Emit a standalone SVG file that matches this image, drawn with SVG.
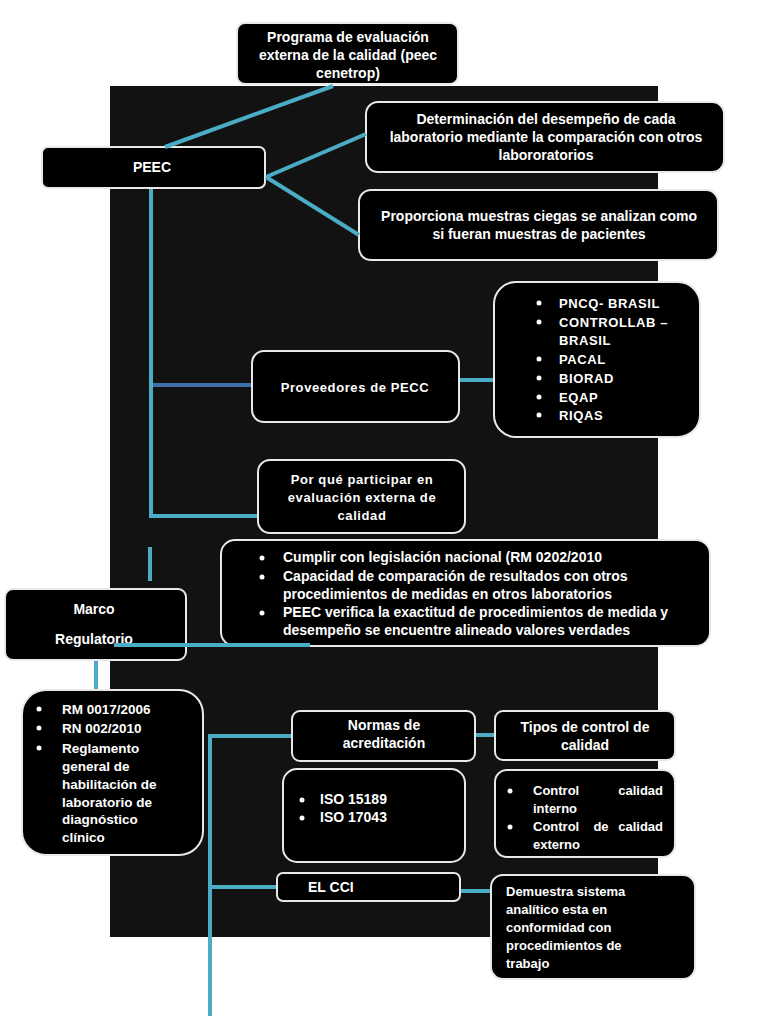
<svg xmlns="http://www.w3.org/2000/svg" width="768" height="1024" viewBox="0 0 768 1024">
<style>
.n{fill:#000;stroke:#e8e8e8;stroke-width:2}
.t{font-family:"Liberation Sans",Arial,sans-serif;font-weight:bold;font-size:14px;fill:#fff}
.s{font-size:13px}
.m{font-size:13.5px}
.w{font-family:"Liberation Sans",Arial,sans-serif;font-weight:bold;font-size:13px;fill:#fff;letter-spacing:0.6px}
.c{text-anchor:middle}
.l{stroke:#4BACC6;stroke-width:4;fill:none}
</style>
<rect width="768" height="1024" fill="#fff"/>
<rect x="110" y="86" width="548" height="851" fill="#121212"/>
<g id="programa">
<rect class="n" x="237" y="23" width="221" height="61" rx="8"/>
<text class="t c" x="348" y="42">Programa de evaluación</text>
<text class="t c" x="348" y="60">externa de la calidad (peec</text>
<text class="t c" x="348" y="78">cenetrop)</text>
</g>
<g id="peec">
<rect class="n" x="42" y="147" width="223" height="41" rx="6"/>
<text class="t c" x="152" y="172">PEEC</text>
</g>
<g id="determinacion">
<rect class="n" x="366" y="102" width="358" height="70" rx="12"/>
<text class="t c" x="546" y="124">Determinación del desempeño de cada</text>
<text class="t c" x="546" y="142">laboratorio mediante la comparación con otros</text>
<text class="t c" x="546" y="160">labororatorios</text>
</g>
<g id="proporciona">
<rect class="n" x="359" y="190" width="359" height="70" rx="12"/>
<text class="t c" x="539" y="221">Proporciona muestras ciegas se analizan como</text>
<text class="t c" x="539" y="239">si fueran muestras de pacientes</text>
</g>
<g id="proveedores">
<rect class="n" x="252" y="351" width="207" height="71" rx="12"/>
<text class="w c" x="355" y="392">Proveedores de PECC</text>
</g>
<g id="lista-proveedores">
<rect class="n" x="494" y="282" width="206" height="155" rx="22"/>
<g class="w">
<circle cx="539" cy="303" r="2.5" fill="#fff"/><text x="559" y="308">PNCQ- BRASIL</text>
<circle cx="539" cy="322" r="2.5" fill="#fff"/><text x="559" y="327">CONTROLLAB –</text>
<text x="559" y="345">BRASIL</text>
<circle cx="539" cy="359" r="2.5" fill="#fff"/><text x="559" y="364">PACAL</text>
<circle cx="539" cy="378" r="2.5" fill="#fff"/><text x="559" y="383">BIORAD</text>
<circle cx="539" cy="397" r="2.5" fill="#fff"/><text x="559" y="402">EQAP</text>
<circle cx="539" cy="415" r="2.5" fill="#fff"/><text x="559" y="420">RIQAS</text>
</g>
</g>
<g id="porque">
<rect class="n" x="258" y="460" width="207" height="73" rx="12"/>
<text class="w c" x="362" y="484">Por qué participar en</text>
<text class="w c" x="362" y="502">evaluación externa de</text>
<text class="w c" x="362" y="520">calidad</text>
</g>
<g id="cumplir">
<rect class="n" x="221" y="540" width="489" height="106" rx="14"/>
<circle cx="262" cy="558" r="2.5" fill="#fff"/><text class="t" x="283" y="562">Cumplir con legislación nacional (RM 0202/2010</text>
<circle cx="262" cy="577" r="2.5" fill="#fff"/><text class="t" x="283" y="581">Capacidad de comparación de resultados con otros</text>
<text class="t" x="283" y="599">procedimientos de medidas en otros laboratorios</text>
<circle cx="262" cy="613" r="2.5" fill="#fff"/><text class="t" x="283" y="617">PEEC verifica la exactitud de procedimientos de medida y</text>
<text class="t" x="283" y="635">desempeño se encuentre alineado valores verdades</text>
</g>
<g id="marco">
<rect class="n" x="5" y="589" width="181" height="71" rx="8"/>
<text class="t c" x="94" y="614">Marco</text>
<text class="t c" x="94" y="644">Regulatorio</text>
</g>
<g id="rm">
<rect class="n" x="22" y="690" width="181" height="165" rx="24"/>
<circle cx="39" cy="709" r="2.5" fill="#fff"/><text class="t m" x="62" y="714">RM 0017/2006</text>
<circle cx="39" cy="728" r="2.5" fill="#fff"/><text class="t m" x="62" y="733">RN 002/2010</text>
<circle cx="39" cy="748" r="2.5" fill="#fff"/><text class="t m" x="62" y="753">Reglamento</text>
<text class="t m" x="62" y="771">general de</text>
<text class="t m" x="62" y="789">habilitación de</text>
<text class="t m" x="62" y="807">laboratorio de</text>
<text class="t m" x="62" y="824">diagnóstico</text>
<text class="t m" x="62" y="842">clínico</text>
</g>
<g id="normas">
<rect class="n" x="292" y="711" width="183" height="50" rx="8"/>
<text class="t c" x="384" y="730">Normas de</text>
<text class="t c" x="384" y="748">acreditación</text>
</g>
<g id="tipos">
<rect class="n" x="495" y="711" width="180" height="49" rx="8"/>
<text class="t c" x="585" y="732">Tipos de control de</text>
<text class="t c" x="585" y="750">calidad</text>
</g>
<g id="iso">
<rect class="n" x="283" y="769" width="182" height="93" rx="14"/>
<circle cx="302" cy="800" r="2.5" fill="#fff"/><text class="t" x="320" y="804">ISO 15189</text>
<circle cx="302" cy="818" r="2.5" fill="#fff"/><text class="t" x="320" y="822">ISO 17043</text>
</g>
<g id="control">
<rect class="n" x="495" y="770" width="180" height="87" rx="12"/>
<circle cx="510" cy="791" r="2.5" fill="#fff"/><text class="t s" x="533" y="795">Control</text><text class="t s" x="663" y="795" text-anchor="end">calidad</text>
<text class="t s" x="533" y="813">interno</text>
<circle cx="510" cy="827" r="2.5" fill="#fff"/><text class="t s" x="533" y="831">Control</text><text class="t s c" x="601" y="831">de</text><text class="t s" x="663" y="831" text-anchor="end">calidad</text>
<text class="t s" x="533" y="849">externo</text>
</g>
<g id="elcci">
<rect class="n" x="277" y="873" width="183" height="28" rx="6"/>
<text class="t" x="308" y="892" font-size="15">EL CCI</text>
</g>
<g id="demuestra">
<rect class="n" x="491" y="875" width="204" height="104" rx="12"/>
<text class="t s" x="506" y="896">Demuestra sistema</text>
<text class="t s" x="506" y="914">analítico esta en</text>
<text class="t s" x="506" y="932">conformidad con</text>
<text class="t s" x="506" y="950">procedimientos de</text>
<text class="t s" x="506" y="968">trabajo</text>
</g>
<g id="connectors">
<line class="l" x1="333" y1="86" x2="165" y2="147"/>
<line class="l" x1="266" y1="177" x2="366" y2="134"/>
<line class="l" x1="266" y1="177" x2="359" y2="235"/>
<line class="l" x1="151" y1="189" x2="151" y2="518"/>
<line x1="153" y1="385" x2="251" y2="385" stroke="#3E6FA8" stroke-width="4"/>
<line class="l" x1="149" y1="516" x2="257" y2="516"/>
<line class="l" x1="460" y1="380" x2="493" y2="380"/>
<line class="l" x1="150" y1="547" x2="150" y2="581"/>
<line class="l" x1="114" y1="645" x2="310" y2="645"/>
<line class="l" x1="96" y1="661" x2="96" y2="689"/>
<line class="l" x1="210" y1="734" x2="210" y2="1016"/>
<line class="l" x1="208" y1="736" x2="291" y2="736"/>
<line class="l" x1="208" y1="887" x2="276" y2="887"/>
<line class="l" x1="476" y1="735" x2="494" y2="735"/>
<line class="l" x1="461" y1="891" x2="490" y2="891"/>
</g>
</svg>
